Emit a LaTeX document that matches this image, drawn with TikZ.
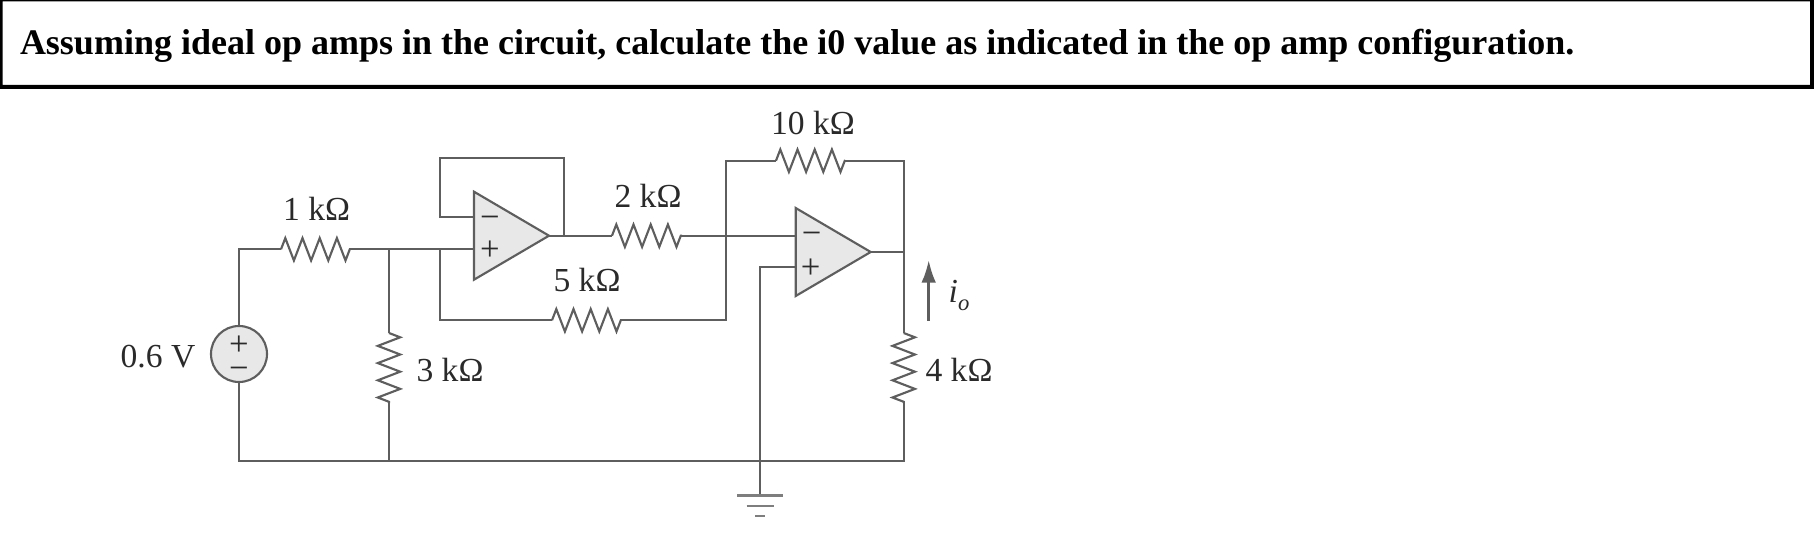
\documentclass[tikz,border=0pt]{standalone}
\usepackage{fontspec}
\usetikzlibrary{arrows.meta,decorations.pathmorphing,shapes.geometric}
\setmainfont{Liberation Serif}
\definecolor{wirecol}{HTML}{5E5E5E}
\definecolor{bodycol}{HTML}{E8E8E8}
\definecolor{textcol}{HTML}{2A2A2A}

\begin{document}
\begin{tikzpicture}[x=0.75pt, y=-0.75pt, line join=miter,
	every node/.style={inner sep=0pt, outer sep=0pt, text=textcol, font=\fontsize{25.2}{28}\selectfont},
	wire/.style={draw=wirecol, line width=1.6pt},
	res/.style={wire, decorate, decoration={zigzag, segment length=12.9pt, amplitude=8.4pt}},
	opamp/.style={isosceles triangle, isosceles triangle stretches, shape border rotate=0, draw=wirecol, line width=1.6pt, fill=bodycol, minimum width=66pt, minimum height=56.25pt, anchor=apex},
	sign/.style={font=\fontsize{26}{28}\selectfont},
	gndline/.style={draw=wirecol!80, line width=2pt}]
	\useasboundingbox (0,0) rectangle (1814,552);
	\fill[black, even odd rule] (0,0) rectangle (1814,89) (2.5,1.5) rectangle (1810,85);
	\node[anchor=base west, font=\fontsize{27}{30}\bfseries\selectfont, text=black] (title) at (20,55) {Assuming ideal op amps in the circuit, calculate the i0 value as indicated in the op amp configuration.};

	\coordinate (c1) at (239,249.3);
	\coordinate (r1a) at (281,249.3);
	\coordinate (r1b) at (350,249.3);
	\coordinate (j1) at (389,249.3);
	\coordinate (j2) at (440,249.3);
	\coordinate (a1p) at (474,249.3);
	\coordinate (a1m) at (474,216.7);
	\coordinate (c2) at (440,216.7);
	\coordinate (c3) at (440,158);
	\coordinate (c4) at (564,158);
	\coordinate (j3) at (564,235.7);
	\coordinate (r2a) at (612,235.7);
	\coordinate (r2b) at (682,235.7);
	\coordinate (a2m) at (795.7,235.7);
	\coordinate (c5) at (440,320.3);
	\coordinate (r5a) at (552,320.3);
	\coordinate (r5b) at (621,320.3);
	\coordinate (c6) at (725.7,320.3);
	\coordinate (c7) at (725.7,160.7);
	\coordinate (r10a) at (776,160.7);
	\coordinate (r10b) at (845,160.7);
	\coordinate (c8) at (903.7,160.7);
	\coordinate (j5) at (903.7,252);
	\coordinate (r4a) at (903.7,333);
	\coordinate (r4b) at (903.7,403);
	\coordinate (c9) at (903.7,461);
	\coordinate (r3a) at (389,333);
	\coordinate (r3b) at (389,403);
	\coordinate (j6) at (389,461);
	\coordinate (c10) at (239,461);
	\coordinate (c11) at (760,266.7);
	\coordinate (a2p) at (795.7,266.7);
	\coordinate (gnd) at (760,495.7);
	\coordinate (ia) at (928.7,320.7);
	\coordinate (ib) at (928.7,260);

	\node[opamp] (oa1) at (549,235.7) {};
	\node[opamp] (oa2) at (870.7,252) {};
	\node[circle, draw=wirecol, line width=1.6pt, fill=bodycol, minimum size=42pt] (vs) at (239,354) {};

	\draw[wire] (vs.north) -- (c1) -- (r1a);
	\draw[res] (r1a) -- (r1b);
	\draw[wire] (r1b) -- (a1p);
	\draw[wire] (j1) -- (r3a);
	\draw[res] (r3a) -- (r3b);
	\draw[wire] (r3b) -- (j6);
	\draw[wire] (vs.south) -- (c10) -- (c9) -- (r4b);
	\draw[res] (r4a) -- (r4b);
	\draw[wire] (r4a) -- (c8) -- (r10b);
	\draw[res] (r10a) -- (r10b);
	\draw[wire] (r10a) -- (c7) -- (c6) -- (r5b);
	\draw[res] (r5a) -- (r5b);
	\draw[wire] (r5a) -- (c5) -- (j2);
	\draw[wire] (a1m) -- (c2) -- (c3) -- (c4) -- (j3);
	\draw[wire] (oa1.apex) -- (r2a);
	\draw[res] (r2a) -- (r2b);
	\draw[wire] (r2b) -- (a2m);
	\draw[wire] (oa2.apex) -- (j5);
	\draw[wire] (a2p) -- (c11) -- (gnd);
	\draw[gndline] (gnd) ++(-23,0) -- ++(46,0);
	\draw[gndline] (gnd) ++(-13.5,10.3) -- ++(27,0);
	\draw[gndline] (gnd) ++(-5,20.3) -- ++(10,0);
	\draw[wire, line width=2.2pt, -{Latex[length=17pt, width=11pt]}] (ia) -- (ib);

	\node[sign] (s1) at (490,251) {+};
	\node[sign] (s2) at (490,222) {−};
	\node[sign] (s3) at (810.7,268.5) {+};
	\node[sign] (s4) at (811.7,238.5) {−};
	\node[sign] (s5) at (239,346) {+};
	\node[sign] (s6) at (239,373) {−};

	\node (l1) at (316.7,209) {1 kΩ};
	\node (l2) at (648,196) {2 kΩ};
	\node (l3) at (450,370) {3 kΩ};
	\node (l4) at (959,370) {4 kΩ};
	\node (l5) at (587,280) {5 kΩ};
	\node (l6) at (813,123) {10 kΩ};
	\node (l7) at (158,357) {0.6 V};
	\node (l8) at (959,295) {\textit{i}\raisebox{-6pt}{\fontsize{17}{20}\selectfont\textit{o}}};
\end{tikzpicture}
\end{document}
